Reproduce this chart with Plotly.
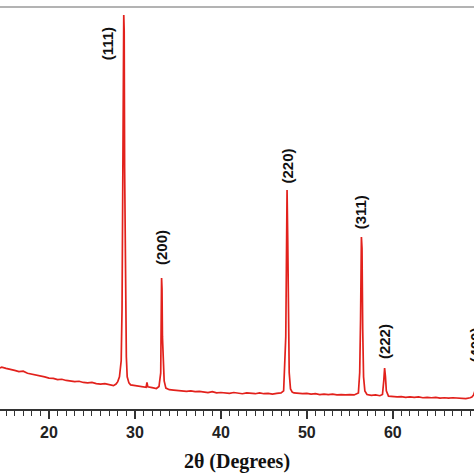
import plotly.graph_objects as go

# XRD pattern (2theta in degrees, intensity in a.u.)
two_theta = [
    14.0, 14.5, 15.0, 15.5, 16.0, 16.5, 17.0, 17.5, 18.0, 18.5, 19.0, 19.5,
    20.0, 20.5, 21.0, 21.5, 22.0, 22.5, 23.0, 23.5, 24.0, 24.5, 25.0, 25.5,
    26.0, 26.5, 27.0, 27.5, 27.8, 28.0, 28.2, 28.4, 28.5, 28.6, 28.7, 28.75,
    28.8, 28.85, 28.9, 29.0, 29.1, 29.3, 29.5, 30.0, 30.5, 31.0, 31.3, 31.4,
    31.5, 32.0, 32.5, 32.8, 33.0, 33.1, 33.15, 33.2, 33.3, 33.4, 33.6, 34.0,
    34.5, 35.0, 35.5, 36.0, 36.5, 37.0, 37.5, 38.0, 38.5, 39.0, 39.5, 40.0,
    40.5, 41.0, 41.5, 42.0, 42.5, 43.0, 43.5, 44.0, 44.5, 45.0, 45.5, 46.0,
    46.5, 47.0, 47.3, 47.45, 47.55, 47.62, 47.7, 47.78, 47.85, 47.95, 48.1, 48.3,
    48.5, 49.0, 49.5, 50.0, 50.5, 51.0, 51.5, 52.0, 52.5, 53.0, 53.5, 54.0,
    54.5, 55.0, 55.5, 56.0, 56.15, 56.25, 56.35, 56.42, 56.5, 56.6, 56.75, 57.0,
    57.5, 58.0, 58.5, 58.8, 58.95, 59.05, 59.15, 59.25, 59.5, 60.0, 60.5, 61.0,
    61.5, 62.0, 62.5, 63.0, 63.5, 64.0, 64.5, 65.0, 65.5, 66.0, 66.5, 67.0,
    67.5, 68.0, 68.5, 69.0, 69.2, 69.4, 69.6,
]
intensity = [
    100, 104, 101, 99, 96, 93, 94, 89, 87, 84, 82, 80,
    77, 76, 73, 74, 71, 70, 68, 69, 66, 65, 66, 63,
    62, 63, 60, 58, 62, 68, 80, 120, 250, 620, 980, 940,
    600, 420, 300, 130, 80, 65, 60, 58, 56, 55, 54, 66,
    55, 53, 51, 56, 90, 326, 300, 180, 120, 70, 52, 48,
    47, 46, 45, 44, 45, 43, 44, 42, 41, 43, 40, 41,
    40, 39, 41, 40, 38, 40, 39, 38, 40, 38, 39, 37,
    39, 40, 45, 140, 180, 350, 545, 420, 200, 90, 50, 42,
    40, 39, 38, 39, 37, 38, 36, 37, 36, 37, 35, 36,
    35, 36, 35, 40, 90, 221, 428, 400, 200, 80, 45, 36,
    34, 35, 33, 36, 70, 102, 80, 45, 32, 31, 30, 31,
    29, 30, 29, 30, 28, 29, 28, 29, 27, 28, 27, 28,
    27, 27, 26, 28, 30, 35, 48,
]

hkl = ["(111)", "(200)", "(220)", "(311)", "(222)", "(400)"]
peak_2theta = [28.7, 33.1, 47.7, 56.35, 59.05, 69.4]
peak_height = [980, 326, 545, 428, 102, 36]

# pixel offsets of each label from its peak top
label_shift = [(-16, -47), (0, 11), (0, 4), (0, 6), (0, 7), (1, 30)]

fig = go.Figure()
fig.add_trace(go.Scatter(x=two_theta, y=intensity, mode="lines",
                         line=dict(color="#e2211c", width=1.7),
                         showlegend=False, hoverinfo="skip"))

for lab, px, py, (dx, dy) in zip(hkl, peak_2theta, peak_height, label_shift):
    fig.add_annotation(x=px, y=py, text=lab, showarrow=False, textangle=-90,
                       xanchor="center", yanchor="bottom", xshift=dx, yshift=dy,
                       font=dict(family="Liberation Sans", size=15, color="#111", weight="bold"))

# thin grey frame line along the top
fig.add_shape(type="line", xref="paper", yref="paper", x0=0, x1=1, y0=1, y1=1,
              line=dict(color="#9a9a9a", width=1.5))

fig.update_xaxes(range=[14.3, 69.45], dtick=10, tick0=0,
                 showline=True, linecolor="#333", linewidth=1.5,
                 ticks="outside", ticklen=8, tickwidth=1.5, tickcolor="#333",
                 minor=dict(dtick=1, ticks="outside", ticklen=5, tickwidth=1.2, tickcolor="#333"),
                 showgrid=False, zeroline=False, automargin=False,
                 tickfont=dict(family="Liberation Sans", size=16, color="#222", weight="bold"),
                 title=dict(text="2θ (Degrees)", standoff=14,
                            font=dict(family="Liberation Serif", size=20, color="#111", weight="bold")))
fig.update_yaxes(range=[0, 1000], visible=False)

fig.update_layout(width=474, height=474,
                  margin=dict(l=0, r=0, t=7, b=65, autoexpand=False),
                  plot_bgcolor="white", paper_bgcolor="white")

# page body has a default 8px margin; drop it so the figure fills the window
fig.write_html("out.html", config={"displayModeBar": False},
               post_script="document.body.style.margin='0';document.body.style.overflow='hidden';")
